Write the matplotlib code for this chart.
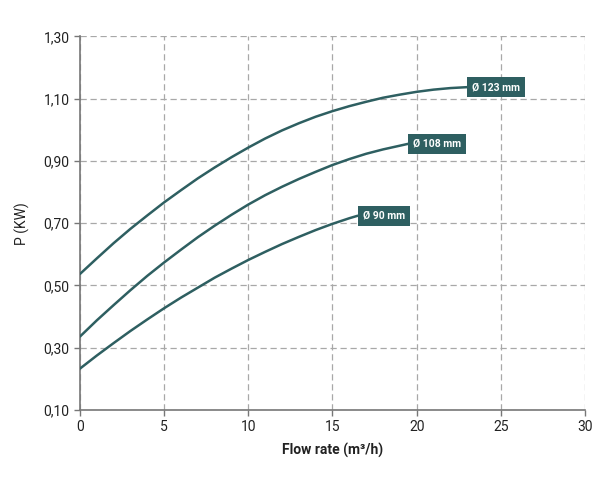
import matplotlib
matplotlib.use("Agg")
import matplotlib.pyplot as plt
from matplotlib.ticker import FuncFormatter

# values (1 m3/h steps)
flow_123 = [0, 1, 2, 3, 4, 5, 6, 7, 8, 9, 10, 11, 12, 13, 14, 15, 16, 17, 18, 19, 20, 21, 22, 23]
power_123 = [0.537, 0.587, 0.636, 0.682, 0.725, 0.767, 0.806, 0.844, 0.879, 0.912, 0.943,
             0.972, 0.998, 1.021, 1.042, 1.060, 1.076, 1.090, 1.103, 1.113, 1.122, 1.129, 1.134, 1.137]

flow_108 = [0, 1, 2, 3, 4, 5, 6, 7, 8, 9, 10, 11, 12, 13, 14, 15, 16, 17, 18, 19, 19.5]
power_108 = [0.336, 0.388, 0.437, 0.485, 0.531, 0.574, 0.615, 0.655, 0.692, 0.727, 0.760,
             0.790, 0.817, 0.842, 0.865, 0.887, 0.906, 0.923, 0.937, 0.949, 0.955]

flow_90 = [0, 1, 2, 3, 4, 5, 6, 7, 8, 9, 10, 11, 12, 13, 14, 15, 16, 16.5]
power_90 = [0.233, 0.275, 0.315, 0.354, 0.391, 0.427, 0.461, 0.493, 0.525, 0.554, 0.582,
            0.608, 0.633, 0.656, 0.678, 0.698, 0.716, 0.724]

labels = ["Ø 123 mm", "Ø 108 mm", "Ø 90 mm"]
x_ticks = [0, 5, 10, 15, 20, 25, 30]
y_ticks = [0.10, 0.30, 0.50, 0.70, 0.90, 1.10, 1.30]

teal = "#2e5f61"
plt.rcParams['font.family'] = ['Roboto', 'DejaVu Sans']

fig = plt.figure(figsize=(6, 4.88), dpi=100)
ax = fig.add_axes([0.1333, 0.1598, 0.8417, 0.7656])

series = [(flow_123, power_123), (flow_108, power_108), (flow_90, power_90)]
for (xs, ys), lab in zip(series, labels):
    ax.plot(xs, ys, color=teal, lw=1.8, solid_capstyle="round", solid_joinstyle="round", zorder=3)
    ax.annotate(lab, (xs[-1], ys[-1]), xytext=(3.6, 0), textcoords="offset points",
                ha="left", va="center", color="white", fontsize=7.5, fontweight="bold",
                bbox=dict(boxstyle="square,pad=0.48", fc=teal, ec="none"), zorder=4)

ax.set_xlim(0, 30)
ax.set_ylim(0.10, 1.30)
ax.set_xticks(x_ticks)
ax.set_yticks(y_ticks)
ax.yaxis.set_major_formatter(FuncFormatter(lambda v, p: ("%.2f" % v).replace(".", ",")))
ax.grid(True, color="#a8a8a8", ls=(0, (5, 3)), lw=0.9)
ax.set_axisbelow(True)
for s in ["top", "right"]:
    ax.spines[s].set_visible(False)
for s in ["left", "bottom"]:
    ax.spines[s].set_color("#777777")
    ax.spines[s].set_linewidth(1.2)
ax.tick_params(colors="#777777", length=4, width=1, labelcolor="#222222", labelsize=10)
ax.set_xlabel("Flow rate (m³/h)", fontsize=10, fontweight="semibold", color="#222222", labelpad=6)
ax.set_ylabel("P (KW)", fontsize=10, color="#222222", labelpad=10)

fig.savefig("out.png", dpi=100)
